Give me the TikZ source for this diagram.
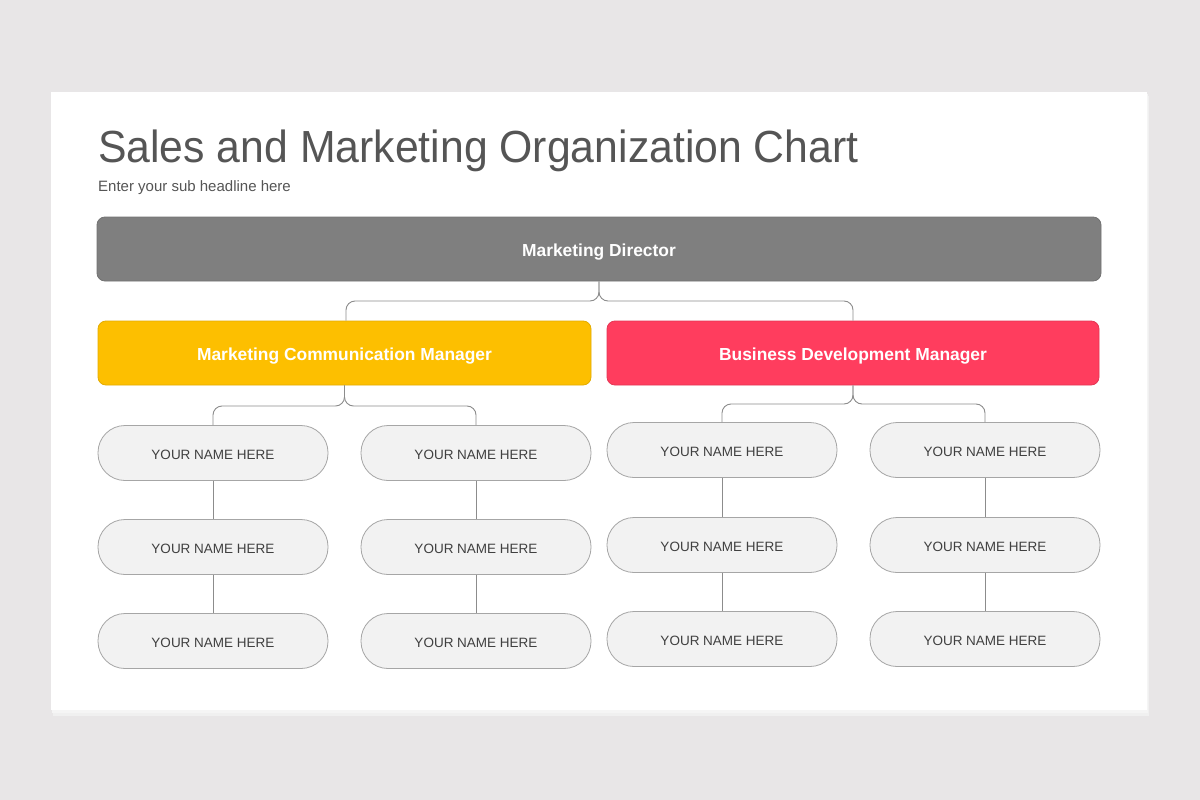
\documentclass[tikz,border=0pt]{standalone}
\usepackage{fontspec}
\setmainfont{Liberation Sans}
\newfontfamily\titlefont[FakeStretch=0.95]{Liberation Sans}
\definecolor{bgc}{HTML}{E8E6E7}
\definecolor{titlec}{HTML}{555555}
\definecolor{dirc}{HTML}{7F7F7F}
\definecolor{yel}{HTML}{FDBF00}
\definecolor{red}{HTML}{FF3D5E}
\definecolor{pillc}{HTML}{F2F2F2}
\definecolor{linec}{HTML}{8C8C8C}
\tikzset{
  hdr/.style={draw=#1!90!black, fill=#1, rounded corners=8pt, line width=0.8pt,
    text=white, font=\bfseries\fontsize{17.4}{20}\selectfont, anchor=center, inner sep=0pt,
    text height=15.5pt, text depth=0pt},
  pill/.style={draw=gray!70, fill=pillc, rounded corners=27pt, line width=0.8pt,
    minimum width=230pt, minimum height=55pt, text=black!75,
    font=\fontsize{13.5}{16}\selectfont, inner sep=0pt, text height=12.4pt, text depth=0pt},
  conn/.style={draw=linec, line width=0.9pt, rounded corners=9pt}
}
\begin{document}
\begin{tikzpicture}[x=1pt,y=-1pt]
\useasboundingbox (0,0) rectangle (1200,800);
\fill[bgc] (0,0) rectangle (1200,800);
% card shadow
\fill[black!6] (53,96) rectangle (1149,716);
\fill[black!4] (52,94) rectangle (1148,713);
\fill[white] (51,92) rectangle (1147,710);
% title
\node[anchor=base west, inner sep=0pt, text=titlec, font=\titlefont\fontsize{45}{50}\selectfont] (title) at (98,162) {Sales and Marketing Organization Chart};
\node[anchor=base west, inner sep=0pt, text=titlec, font=\fontsize{15}{18}\selectfont] (sub) at (98,191) {Enter your sub headline here};
% director and managers
\node[hdr=dirc, minimum width=1004pt, minimum height=64pt] (dir) at (599,249) {Marketing Director};
\node[hdr=yel, minimum width=493pt, minimum height=64pt] (m1) at (344.5,353) {Marketing Communication Manager};
\node[hdr=red, minimum width=492pt, minimum height=64pt] (m2) at (853,353) {Business Development Manager};
% pills
\foreach \n/\x/\y in {a1/213/453, a2/213/547, a3/213/641,
                      b1/476/453, b2/476/547, b3/476/641,
                      c1/722/450, c2/722/545, c3/722/639,
                      d1/985/450, d2/985/545, d3/985/639}{
  \node[pill] (\n) at (\x,\y) {YOUR NAME HERE};
}
% connectors
\draw[conn] (dir.south) |- (346,301) -- (m1.north -| 346,0);
\draw[conn] (dir.south) |- (853,301) -- (m2.north);
\draw[conn] (m1.south) |- (213,406) -- (a1.north);
\draw[conn] (m1.south) |- (476,406) -- (b1.north);
\draw[conn] (m2.south) |- (722,404) -- (c1.north);
\draw[conn] (m2.south) |- (985,404) -- (d1.north);
\foreach \p/\q in {a1/a2,a2/a3,b1/b2,b2/b3,c1/c2,c2/c3,d1/d2,d2/d3}{
  \draw[draw=linec, line width=0.9pt] (\p.south) -- (\q.north);
}
\end{tikzpicture}
\end{document}
